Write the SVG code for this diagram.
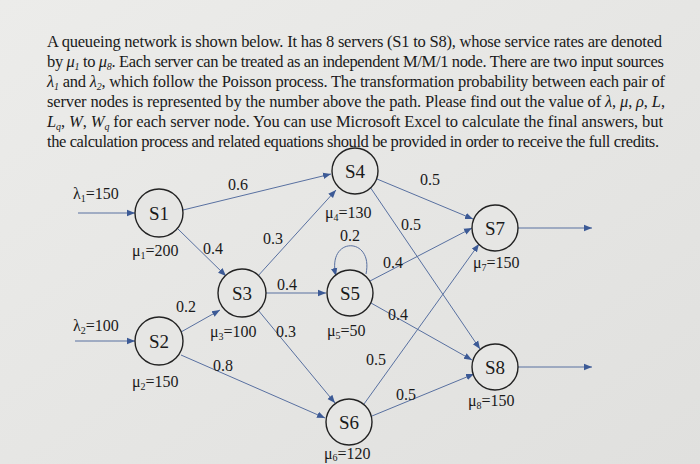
<svg xmlns="http://www.w3.org/2000/svg" width="700" height="464" viewBox="0 0 700 464">
<style>
.p{font-family:"Liberation Serif",serif;font-size:16.5px;fill:#1a1a1a}
.n{font-family:"Liberation Serif",serif;font-size:19px;fill:#1a1a1a;text-anchor:middle}
.l{font-family:"Liberation Serif",serif;font-size:16px;fill:#1a1a1a}
.s{font-size:10px}
circle{fill:#e6e6e4;stroke:#222;stroke-width:1.4}
line,path.e{stroke:#5870a0;stroke-width:1;fill:none;marker-end:url(#a)}
</style>
<defs>
<linearGradient id="bg" x1="0" y1="0" x2="1" y2="1"><stop offset="0" stop-color="#ececea"/><stop offset="1" stop-color="#e0e0de"/></linearGradient>
<marker id="a" viewBox="0 0 10 10" refX="10" refY="5" markerWidth="8" markerHeight="8" orient="auto" markerUnits="userSpaceOnUse"><path d="M0,1 L10,5 L0,9 z" fill="#3c5a96"/></marker>
</defs>
<rect width="700" height="464" fill="url(#bg)"/>
<g id="text" class="p">
<text x="47" y="47" textLength="615" lengthAdjust="spacing">A queueing network is shown below. It has 8 servers (S1 to S8), whose service rates are denoted</text>
<text x="47" y="67" textLength="617" lengthAdjust="spacing">by <tspan font-style="italic">μ<tspan class="s" dy="3">1</tspan></tspan><tspan dy="-3"> to </tspan><tspan font-style="italic">μ<tspan class="s" dy="3">8</tspan></tspan><tspan dy="-3">. Each server can be treated as an independent M/M/1 node. There are two input sources</tspan></text>
<text x="47" y="87" textLength="618" lengthAdjust="spacing"><tspan font-style="italic">λ<tspan class="s" dy="3">1</tspan></tspan><tspan dy="-3"> and </tspan><tspan font-style="italic">λ<tspan class="s" dy="3">2</tspan></tspan><tspan dy="-3">, which follow the Poisson process. The transformation probability between each pair of</tspan></text>
<text x="47" y="107" textLength="618" lengthAdjust="spacing">server nodes is represented by the number above the path. Please find out the value of <tspan font-style="italic">λ</tspan>, <tspan font-style="italic">μ</tspan>, <tspan font-style="italic">ρ</tspan>, <tspan font-style="italic">L</tspan>,</text>
<text x="47" y="127" textLength="616" lengthAdjust="spacing"><tspan font-style="italic">L<tspan class="s" dy="3">q</tspan></tspan><tspan dy="-3">, </tspan><tspan font-style="italic">W</tspan>, <tspan font-style="italic">W<tspan class="s" dy="3">q</tspan></tspan><tspan dy="-3"> for each server node. You can use Microsoft Excel to calculate the final answers, but</tspan></text>
<text x="47" y="147" textLength="612" lengthAdjust="spacing">the calculation process and related equations should be provided in order to receive the full credits.</text>
</g>
<g id="connectors">
<line x1="78" y1="213" x2="135" y2="213"/>
<line x1="75" y1="341" x2="135" y2="341"/>
<line x1="183" y1="210" x2="331" y2="174"/>
<line x1="178" y1="229" x2="226" y2="276"/>
<line x1="181" y1="332" x2="220" y2="310"/>
<line x1="181" y1="355" x2="325" y2="418"/>
<line x1="257" y1="277" x2="336" y2="190"/>
<line x1="265" y1="293" x2="326" y2="293"/>
<line x1="258" y1="310" x2="335" y2="403"/>
<line x1="377" y1="179" x2="473" y2="219"/>
<line x1="370" y1="187" x2="480" y2="349"/>
<line x1="370" y1="281" x2="472" y2="228"/>
<line x1="371" y1="303" x2="472" y2="360"/>
<line x1="364" y1="404" x2="479" y2="244"/>
<line x1="372" y1="416" x2="474" y2="374"/>
<line x1="518" y1="228" x2="592" y2="228"/>
<line x1="518" y1="367" x2="592" y2="367"/>
<path class="e" d="M366,274 C374,236 326,236 336,276"/>
</g>
<g id="S1"><circle cx="159" cy="213" r="24"/><text class="n" x="159" y="220">S1</text></g>
<g id="S2"><circle cx="159" cy="341" r="24"/><text class="n" x="159" y="348">S2</text></g>
<g id="S3"><circle cx="242" cy="293" r="24"/><text class="n" x="242" y="300">S3</text></g>
<g id="S4"><circle cx="355" cy="171" r="23"/><text class="n" x="355" y="178">S4</text></g>
<g id="S5"><circle cx="350" cy="293" r="23"/><text class="n" x="350" y="300">S5</text></g>
<g id="S6"><circle cx="349" cy="422" r="23"/><text class="n" x="349" y="429">S6</text></g>
<g id="S7"><circle cx="495" cy="228" r="23"/><text class="n" x="495" y="235">S7</text></g>
<g id="S8"><circle cx="495" cy="367" r="23"/><text class="n" x="495" y="374">S8</text></g>
<g id="labels" class="l">
<text x="73" y="199">λ<tspan class="s" dy="3">1</tspan><tspan dy="-3">=150</tspan></text>
<text x="73" y="331">λ<tspan class="s" dy="3">2</tspan><tspan dy="-3">=100</tspan></text>
<text x="132" y="256">μ<tspan class="s" dy="3">1</tspan><tspan dy="-3">=200</tspan></text>
<text x="132" y="387">μ<tspan class="s" dy="3">2</tspan><tspan dy="-3">=150</tspan></text>
<text x="210" y="337">μ<tspan class="s" dy="3">3</tspan><tspan dy="-3">=100</tspan></text>
<text x="325" y="218">μ<tspan class="s" dy="3">4</tspan><tspan dy="-3">=130</tspan></text>
<text x="327" y="336">μ<tspan class="s" dy="3">5</tspan><tspan dy="-3">=50</tspan></text>
<text x="324" y="459">μ<tspan class="s" dy="2">6</tspan><tspan dy="-2">=120</tspan></text>
<text x="473" y="268">μ<tspan class="s" dy="3">7</tspan><tspan dy="-3">=150</tspan></text>
<text x="468" y="406">μ<tspan class="s" dy="3">8</tspan><tspan dy="-3">=150</tspan></text>
<text x="228" y="190">0.6</text>
<text x="203" y="254">0.4</text>
<text x="263" y="244">0.3</text>
<text x="277" y="290">0.4</text>
<text x="176" y="312">0.2</text>
<text x="276" y="337">0.3</text>
<text x="213" y="371">0.8</text>
<text x="340" y="241">0.2</text>
<text x="420" y="185">0.5</text>
<text x="401" y="230">0.5</text>
<text x="383" y="268">0.4</text>
<text x="388" y="320">0.4</text>
<text x="366" y="365">0.5</text>
<text x="396" y="400">0.5</text>
</g>
</svg>
